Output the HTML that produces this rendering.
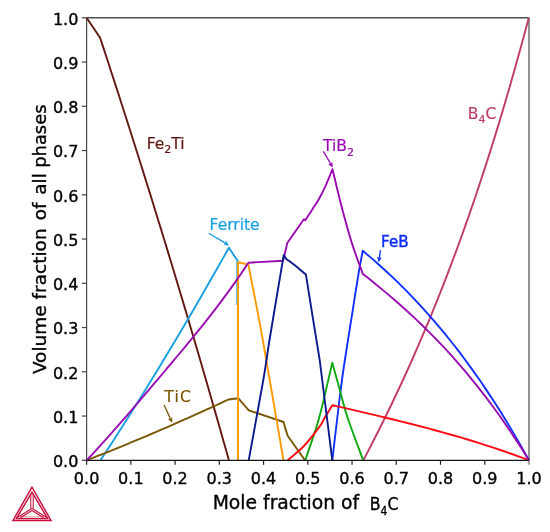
<!DOCTYPE html>
<html><head><meta charset="utf-8"><style>
html,body{margin:0;padding:0;background:#fff;}
#w{position:relative;width:550px;height:532px;overflow:hidden;background:#fff;}
text{font-family:"DejaVu Sans", "Liberation Sans", sans-serif;}
</style></head><body><div id="w">
<svg width="550" height="532" viewBox="0 0 550 532" style="position:absolute;left:0;top:0">
<defs><clipPath id="c"><rect x="85.6" y="16.8" width="444.4" height="444.5"/></clipPath></defs>
<line x1="86.6" y1="17.8" x2="529.0" y2="17.8" stroke="#4e4e4e" stroke-width="1.4"/>
<line x1="529.0" y1="17.8" x2="529.0" y2="460.3" stroke="#646464" stroke-width="1.4"/>
<line x1="86.6" y1="17.8" x2="86.6" y2="460.3" stroke="#4a4a4a" stroke-width="1.2"/>
<line x1="86.60" y1="460.3" x2="86.60" y2="464.8" stroke="#222" stroke-width="1.2"/>
<line x1="81.8" y1="460.30" x2="86.6" y2="460.30" stroke="#444" stroke-width="1.2"/>
<line x1="130.84" y1="460.3" x2="130.84" y2="464.8" stroke="#222" stroke-width="1.2"/>
<line x1="81.8" y1="416.05" x2="86.6" y2="416.05" stroke="#444" stroke-width="1.2"/>
<line x1="175.08" y1="460.3" x2="175.08" y2="464.8" stroke="#222" stroke-width="1.2"/>
<line x1="81.8" y1="371.80" x2="86.6" y2="371.80" stroke="#444" stroke-width="1.2"/>
<line x1="219.32" y1="460.3" x2="219.32" y2="464.8" stroke="#222" stroke-width="1.2"/>
<line x1="81.8" y1="327.55" x2="86.6" y2="327.55" stroke="#444" stroke-width="1.2"/>
<line x1="263.56" y1="460.3" x2="263.56" y2="464.8" stroke="#222" stroke-width="1.2"/>
<line x1="81.8" y1="283.30" x2="86.6" y2="283.30" stroke="#444" stroke-width="1.2"/>
<line x1="307.80" y1="460.3" x2="307.80" y2="464.8" stroke="#222" stroke-width="1.2"/>
<line x1="81.8" y1="239.05" x2="86.6" y2="239.05" stroke="#444" stroke-width="1.2"/>
<line x1="352.04" y1="460.3" x2="352.04" y2="464.8" stroke="#222" stroke-width="1.2"/>
<line x1="81.8" y1="194.80" x2="86.6" y2="194.80" stroke="#444" stroke-width="1.2"/>
<line x1="396.28" y1="460.3" x2="396.28" y2="464.8" stroke="#222" stroke-width="1.2"/>
<line x1="81.8" y1="150.55" x2="86.6" y2="150.55" stroke="#444" stroke-width="1.2"/>
<line x1="440.52" y1="460.3" x2="440.52" y2="464.8" stroke="#222" stroke-width="1.2"/>
<line x1="81.8" y1="106.30" x2="86.6" y2="106.30" stroke="#444" stroke-width="1.2"/>
<line x1="484.76" y1="460.3" x2="484.76" y2="464.8" stroke="#222" stroke-width="1.2"/>
<line x1="81.8" y1="62.05" x2="86.6" y2="62.05" stroke="#444" stroke-width="1.2"/>
<line x1="529.00" y1="460.3" x2="529.00" y2="464.8" stroke="#6a6a6a" stroke-width="1.2"/>
<line x1="81.8" y1="17.80" x2="86.6" y2="17.80" stroke="#444" stroke-width="1.2"/>
<g clip-path="url(#c)" fill="none" stroke-width="1.9" stroke-linejoin="round" stroke-linecap="butt">
<path d="M86.60,17.80 L100.10,37.70 C102.11,43.82 104.12,49.95 106.13,56.07 C108.13,62.20 110.13,68.32 112.11,74.45 C114.10,80.57 116.09,86.70 118.06,92.82 C120.04,98.95 122.01,105.07 123.97,111.20 C125.94,117.32 127.89,123.44 129.85,129.57 C131.80,135.69 133.74,141.82 135.68,147.94 C137.62,154.07 139.55,160.19 141.47,166.32 C143.40,172.44 145.32,178.57 147.23,184.69 C149.14,190.82 151.04,196.94 152.94,203.07 C154.84,209.19 156.74,215.31 158.62,221.44 C160.51,227.56 162.39,233.69 164.26,239.81 C166.13,245.94 168.00,252.06 169.86,258.19 C171.72,264.31 173.57,270.44 175.42,276.56 C177.27,282.69 179.11,288.81 180.94,294.93 C182.78,301.06 184.61,307.18 186.43,313.31 C188.25,319.43 190.07,325.56 191.87,331.68 C193.68,337.81 195.48,343.93 197.28,350.06 C199.08,356.18 200.87,362.31 202.65,368.43 C204.43,374.56 206.21,380.68 207.98,386.80 C209.75,392.93 211.51,399.05 213.27,405.18 C215.02,411.30 216.77,417.43 218.52,423.55 C220.26,429.68 222.00,435.80 223.73,441.93 C225.46,448.05 227.18,454.18 228.90,460.30" stroke="#621811"/>
<path d="M100.50,460.30 C102.36,457.45 104.22,454.61 106.08,451.76 C107.94,448.90 109.80,446.03 111.67,443.15 C113.53,440.27 115.39,437.38 117.25,434.48 C119.11,431.58 120.97,428.67 122.83,425.75 C124.69,422.82 126.55,419.89 128.41,416.95 C130.27,414.00 132.13,411.05 134.00,408.09 C135.86,405.12 137.72,402.15 139.58,399.16 C141.44,396.18 143.30,393.18 145.16,390.17 C147.02,387.17 148.88,384.15 150.74,381.12 C152.60,378.09 154.47,375.05 156.33,372.00 C158.19,368.96 160.05,365.90 161.91,362.82 C163.77,359.75 165.63,356.67 167.49,353.58 C169.35,350.49 171.21,347.39 173.07,344.27 C174.93,341.16 176.80,338.04 178.66,334.90 C180.52,331.77 182.38,328.62 184.24,325.47 C186.10,322.31 187.96,319.15 189.82,315.97 C191.68,312.79 193.54,309.61 195.40,306.41 C197.27,303.21 199.13,300.00 200.99,296.78 C202.85,293.56 204.71,290.33 206.57,287.09 C208.43,283.85 210.29,280.60 212.15,277.34 C214.01,274.08 215.87,270.81 217.73,267.52 C219.60,264.24 221.46,260.95 223.32,257.64 C225.18,254.34 227.04,251.01 228.90,247.70 L237.60,260.80 L237.30,262.00 L237.30,305.00" stroke="#17a0e4"/>
<path d="M86.60,460.30 C88.66,459.49 90.71,458.69 92.77,457.89 C94.83,457.08 96.88,456.27 98.94,455.46 C101.00,454.65 103.05,453.83 105.11,453.01 C107.17,452.19 109.22,451.36 111.28,450.54 C113.33,449.71 115.39,448.88 117.45,448.04 C119.50,447.21 121.56,446.37 123.62,445.53 C125.67,444.69 127.73,443.84 129.79,442.99 C131.84,442.14 133.90,441.29 135.96,440.43 C138.01,439.58 140.07,438.72 142.13,437.86 C144.18,436.99 146.24,436.12 148.30,435.25 C150.35,434.38 152.41,433.51 154.47,432.63 C156.52,431.76 158.58,430.87 160.63,429.99 C162.69,429.10 164.75,428.22 166.80,427.32 C168.86,426.43 170.92,425.54 172.97,424.64 C175.03,423.74 177.09,422.84 179.14,421.93 C181.20,421.03 183.26,420.12 185.31,419.20 C187.37,418.29 189.43,417.37 191.48,416.45 C193.54,415.53 195.60,414.61 197.65,413.68 C199.71,412.75 201.77,411.82 203.82,410.89 C205.88,409.95 207.93,409.01 209.99,408.07 C212.05,407.13 214.10,406.19 216.16,405.24 C218.22,404.29 220.27,403.34 222.33,402.38 C224.39,401.42 226.44,400.46 228.50,399.50 L238.20,398.20 L248.80,410.30 L283.50,422.00 C284.73,426.13 286.33,431.85 287.20,434.40 C288.07,436.95 288.20,436.33 288.70,437.30 L305.00,460.30" stroke="#7a5800"/>
<path d="M238.00,460.30 L238.00,262.30 L248.40,264.60 C253.20,289.73 256.95,307.38 262.80,340.00 C268.65,372.62 276.60,420.20 283.50,460.30" stroke="#ff9900"/>
<path d="M363.30,460.30 C365.95,455.21 368.64,450.13 371.26,445.04 C373.88,439.96 376.47,434.87 379.02,429.78 C381.57,424.70 384.09,419.61 386.58,414.52 C389.06,409.44 391.51,404.35 393.93,399.27 C396.36,394.18 398.74,389.09 401.10,384.01 C403.46,378.92 405.78,373.83 408.08,368.75 C410.38,363.66 412.64,358.58 414.88,353.49 C417.12,348.40 419.32,343.32 421.50,338.23 C423.68,333.14 425.83,328.06 427.95,322.97 C430.07,317.89 432.17,312.80 434.23,307.71 C436.30,302.63 438.34,297.54 440.35,292.46 C442.37,287.37 444.36,282.28 446.32,277.20 C448.28,272.11 450.22,267.02 452.14,261.94 C454.05,256.85 455.94,251.77 457.80,246.68 C459.67,241.59 461.51,236.51 463.33,231.42 C465.15,226.33 466.95,221.25 468.72,216.16 C470.50,211.08 472.25,205.99 473.99,200.90 C475.72,195.82 477.43,190.73 479.12,185.64 C480.81,180.56 482.49,175.47 484.14,170.39 C485.79,165.30 487.42,160.21 489.04,155.13 C490.65,150.04 492.25,144.96 493.83,139.87 C495.41,134.78 496.97,129.70 498.51,124.61 C500.06,119.52 501.59,114.44 503.10,109.35 C504.61,104.27 506.11,99.18 507.59,94.09 C509.07,89.01 510.54,83.92 511.99,78.83 C513.44,73.75 514.88,68.66 516.31,63.58 C517.73,58.49 519.15,53.40 520.55,48.32 C521.95,43.23 523.33,38.14 524.71,33.06 C526.08,27.97 527.44,22.89 528.80,17.80" stroke="#c03a6a"/>
<path d="M332.30,460.30 C334.67,440.20 337.43,415.88 339.40,400.00 C341.37,384.12 342.00,379.20 344.10,365.00 C346.20,350.80 349.55,330.30 352.00,314.80 C354.45,299.30 357.00,282.67 358.80,272.00 C360.60,261.33 361.47,257.87 362.80,250.80 L362.80,250.79 C365.21,252.83 367.62,254.82 370.03,256.89 C372.43,258.95 374.84,261.05 377.25,263.19 C379.66,265.32 382.07,267.49 384.48,269.69 C386.89,271.90 389.30,274.14 391.70,276.42 C394.11,278.71 396.52,281.02 398.93,283.39 C401.34,285.75 403.75,288.15 406.16,290.59 C408.57,293.03 410.97,295.52 413.38,298.05 C415.79,300.58 418.20,303.15 420.61,305.77 C423.02,308.39 425.43,311.06 427.83,313.77 C430.24,316.48 432.65,319.24 435.06,322.05 C437.47,324.86 439.88,327.71 442.29,330.62 C444.70,333.53 447.10,336.49 449.51,339.50 C451.92,342.52 454.33,345.58 456.74,348.70 C459.15,351.82 461.56,354.99 463.97,358.22 C466.37,361.45 468.78,364.74 471.19,368.08 C473.60,371.43 476.01,374.83 478.42,378.29 C480.83,381.75 483.23,385.27 485.64,388.85 C488.05,392.43 490.46,396.07 492.87,399.78 C495.28,403.48 497.69,407.25 500.10,411.08 C502.50,414.92 504.91,418.82 507.32,422.78 C509.73,426.75 512.14,430.77 514.55,434.87 C516.96,438.97 519.37,443.14 521.77,447.38 C524.18,451.61 526.59,455.99 529.00,460.30" stroke="#1030ff"/>
<path d="M305.30,460.30 C309.90,446.20 314.60,434.27 319.10,418.00 C323.60,401.73 327.90,381.13 332.30,362.70 C334.80,371.80 337.23,380.78 339.80,390.00 C342.37,399.22 343.80,406.28 347.70,418.00 C351.60,429.72 358.03,446.20 363.20,460.30" stroke="#0eaa10"/>
<path d="M287.60,460.30 C293.03,455.53 298.67,451.48 303.90,446.00 C309.13,440.52 315.48,432.18 319.00,427.40 C322.52,422.62 322.77,421.00 325.00,417.30 C327.23,413.60 329.93,409.23 332.40,405.20 L332.40,405.20 C335.25,405.86 338.10,406.52 340.95,407.18 C343.80,407.85 346.65,408.51 349.50,409.17 C352.34,409.83 355.19,410.49 358.04,411.16 C360.89,411.82 363.74,412.49 366.59,413.16 C369.44,413.83 372.29,414.50 375.14,415.18 C377.99,415.86 380.84,416.54 383.69,417.22 C386.54,417.91 389.39,418.60 392.23,419.29 C395.08,419.99 397.93,420.69 400.78,421.40 C403.63,422.10 406.48,422.82 409.33,423.54 C412.18,424.26 415.03,424.99 417.88,425.72 C420.73,426.46 423.58,427.20 426.43,427.95 C429.28,428.71 432.12,429.47 434.97,430.24 C437.82,431.01 440.67,431.79 443.52,432.58 C446.37,433.37 449.22,434.17 452.07,434.99 C454.92,435.80 457.77,436.62 460.62,437.46 C463.47,438.30 466.32,439.14 469.17,440.01 C472.01,440.87 474.86,441.74 477.71,442.63 C480.56,443.52 483.41,444.42 486.26,445.34 C489.11,446.26 491.96,447.19 494.81,448.14 C497.66,449.08 500.51,450.05 503.36,451.02 C506.21,452.00 509.06,453.00 511.90,454.01 C514.75,455.03 517.60,456.05 520.45,457.10 C523.30,458.15 526.15,459.24 529.00,460.30" stroke="#ff0a14"/>
<path d="M86.60,460.30 C88.94,457.81 91.29,455.36 93.63,452.84 C95.98,450.32 98.32,447.76 100.67,445.19 C103.01,442.61 105.36,440.00 107.70,437.37 C110.05,434.74 112.39,432.09 114.74,429.42 C117.08,426.76 119.43,424.07 121.77,421.38 C124.12,418.69 126.46,415.98 128.81,413.26 C131.15,410.54 133.50,407.82 135.84,405.08 C138.19,402.35 140.53,399.61 142.88,396.86 C145.22,394.12 147.57,391.37 149.91,388.61 C152.26,385.85 154.60,383.09 156.95,380.33 C159.29,377.56 161.64,374.79 163.98,372.01 C166.33,369.23 168.67,366.45 171.02,363.66 C173.36,360.87 175.71,358.07 178.05,355.26 C180.40,352.45 182.74,349.63 185.09,346.80 C187.43,343.96 189.78,341.12 192.12,338.25 C194.47,335.38 196.81,332.50 199.16,329.59 C201.50,326.68 203.85,323.76 206.19,320.79 C208.54,317.83 210.88,314.85 213.23,311.82 C215.57,308.79 217.92,305.73 220.26,302.63 C222.61,299.52 224.95,296.37 227.30,293.17 C229.64,289.97 231.99,286.72 234.33,283.40 C236.68,280.09 239.02,276.72 241.37,273.27 C243.71,269.82 246.06,266.22 248.40,262.70 L283.10,260.70 C283.60,258.67 283.90,257.55 284.60,254.60 C285.30,251.65 286.40,246.87 287.30,243.00 L303.90,219.30 L305.40,220.20 L306.60,218.30 C308.40,215.50 309.97,213.08 312.00,209.90 C314.03,206.72 316.53,203.22 318.80,199.20 C321.07,195.18 323.32,190.80 325.60,185.80 C327.88,180.80 330.20,174.73 332.50,169.20 C335.30,180.77 337.68,191.62 340.90,203.90 C344.12,216.18 348.15,231.23 351.80,242.90 C355.45,254.57 359.13,263.57 362.80,273.90 L362.80,273.91 C365.21,275.81 367.62,277.68 370.03,279.60 C372.43,281.52 374.84,283.46 377.25,285.42 C379.66,287.39 382.07,289.37 384.48,291.38 C386.89,293.39 389.30,295.43 391.70,297.49 C394.11,299.56 396.52,301.65 398.93,303.77 C401.34,305.89 403.75,308.04 406.16,310.23 C408.57,312.41 410.97,314.62 413.38,316.87 C415.79,319.12 418.20,321.40 420.61,323.73 C423.02,326.05 425.43,328.40 427.83,330.80 C430.24,333.19 432.65,335.63 435.06,338.10 C437.47,340.58 439.88,343.09 442.29,345.65 C444.70,348.21 447.10,350.81 449.51,353.46 C451.92,356.11 454.33,358.80 456.74,361.54 C459.15,364.28 461.56,367.07 463.97,369.91 C466.37,372.75 468.78,375.64 471.19,378.58 C473.60,381.52 476.01,384.51 478.42,387.56 C480.83,390.61 483.23,393.71 485.64,396.86 C488.05,400.02 490.46,403.24 492.87,406.51 C495.28,409.78 497.69,413.11 500.10,416.51 C502.50,419.90 504.91,423.36 507.32,426.87 C509.73,430.39 512.14,433.97 514.55,437.62 C516.96,441.27 519.37,444.98 521.77,448.76 C524.18,452.54 526.59,456.45 529.00,460.30" stroke="#9a0cb2"/>
<path d="M248.70,460.30 C253.57,433.53 259.83,400.05 263.30,380.00 C266.77,359.95 266.10,360.82 269.50,340.00 C272.90,319.18 278.97,283.40 283.70,255.10 L286.10,258.70 C289.00,260.90 291.50,262.68 294.80,265.30 C298.10,267.92 302.20,271.37 305.90,274.40 C308.40,290.07 311.10,307.13 313.40,321.40 C315.70,335.67 317.60,347.13 319.70,360.00 L332.30,460.30" stroke="#0a1a8c"/>
</g>
<line x1="86.1" y1="460.3" x2="529.0" y2="460.3" stroke="#151515" stroke-width="1.2"/>
<line x1="208.8" y1="233.2" x2="224.89" y2="242.92" stroke="#17a0e4" stroke-width="1.3"/><polygon points="229.00,245.40 223.70,244.89 226.08,240.95" fill="#17a0e4"/>
<line x1="323.4" y1="151.4" x2="330.39" y2="163.45" stroke="#9a0cb2" stroke-width="1.3"/><polygon points="332.80,167.60 328.40,164.60 332.38,162.29" fill="#9a0cb2"/>
<line x1="380.5" y1="250.2" x2="379.41" y2="257.45" stroke="#1030ff" stroke-width="1.3"/><polygon points="378.70,262.20 377.14,257.11 381.69,257.79" fill="#1030ff"/>
<line x1="164.1" y1="405.1" x2="170.19" y2="418.34" stroke="#7a5800" stroke-width="1.3"/><polygon points="172.20,422.70 168.10,419.30 172.28,417.38" fill="#7a5800"/>
<g fill="none" stroke="#c80f3c" stroke-width="1.45" stroke-linejoin="miter"><polygon points="32,487.2 13,520.4 51,520.4"/><polygon points="32,492.2 16.3,518.6 47.7,518.6"/><line x1="30.8" y1="494" x2="30.8" y2="508.6" stroke-width="1.05"/><line x1="33.2" y1="494" x2="33.2" y2="508.6" stroke-width="1.05"/><line x1="32" y1="508.3" x2="17.5" y2="517.6" stroke-width="1.2"/><line x1="32" y1="510.6" x2="20.5" y2="517.8" stroke-width="1.2"/><line x1="32" y1="508.3" x2="46.5" y2="517.6" stroke-width="1.2"/><line x1="32" y1="510.6" x2="43.5" y2="517.8" stroke-width="1.2"/><line x1="19" y1="516.9" x2="45" y2="516.9" stroke-width="0.8" stroke-opacity="0.6"/></g>
<text x="86.60" y="483.9" font-size="16" fill="#000" stroke="#000" stroke-width="0.35" text-anchor="middle" >0.0</text>
<text x="78.4" y="467.10" font-size="16" fill="#000" stroke="#000" stroke-width="0.35" text-anchor="end" >0.0</text>
<text x="130.84" y="483.9" font-size="16" fill="#000" stroke="#000" stroke-width="0.35" text-anchor="middle" >0.1</text>
<text x="78.4" y="422.85" font-size="16" fill="#000" stroke="#000" stroke-width="0.35" text-anchor="end" >0.1</text>
<text x="175.08" y="483.9" font-size="16" fill="#000" stroke="#000" stroke-width="0.35" text-anchor="middle" >0.2</text>
<text x="78.4" y="378.60" font-size="16" fill="#000" stroke="#000" stroke-width="0.35" text-anchor="end" >0.2</text>
<text x="219.32" y="483.9" font-size="16" fill="#000" stroke="#000" stroke-width="0.35" text-anchor="middle" >0.3</text>
<text x="78.4" y="334.35" font-size="16" fill="#000" stroke="#000" stroke-width="0.35" text-anchor="end" >0.3</text>
<text x="263.56" y="483.9" font-size="16" fill="#000" stroke="#000" stroke-width="0.35" text-anchor="middle" >0.4</text>
<text x="78.4" y="290.10" font-size="16" fill="#000" stroke="#000" stroke-width="0.35" text-anchor="end" >0.4</text>
<text x="307.80" y="483.9" font-size="16" fill="#000" stroke="#000" stroke-width="0.35" text-anchor="middle" >0.5</text>
<text x="78.4" y="245.85" font-size="16" fill="#000" stroke="#000" stroke-width="0.35" text-anchor="end" >0.5</text>
<text x="352.04" y="483.9" font-size="16" fill="#000" stroke="#000" stroke-width="0.35" text-anchor="middle" >0.6</text>
<text x="78.4" y="201.60" font-size="16" fill="#000" stroke="#000" stroke-width="0.35" text-anchor="end" >0.6</text>
<text x="396.28" y="483.9" font-size="16" fill="#000" stroke="#000" stroke-width="0.35" text-anchor="middle" >0.7</text>
<text x="78.4" y="157.35" font-size="16" fill="#000" stroke="#000" stroke-width="0.35" text-anchor="end" >0.7</text>
<text x="440.52" y="483.9" font-size="16" fill="#000" stroke="#000" stroke-width="0.35" text-anchor="middle" >0.8</text>
<text x="78.4" y="113.10" font-size="16" fill="#000" stroke="#000" stroke-width="0.35" text-anchor="end" >0.8</text>
<text x="484.76" y="483.9" font-size="16" fill="#000" stroke="#000" stroke-width="0.35" text-anchor="middle" >0.9</text>
<text x="78.4" y="68.85" font-size="16" fill="#000" stroke="#000" stroke-width="0.35" text-anchor="end" >0.9</text>
<text x="529.00" y="483.9" font-size="16" fill="#000" stroke="#000" stroke-width="0.35" text-anchor="middle" >1.0</text>
<text x="78.4" y="24.60" font-size="16" fill="#000" stroke="#000" stroke-width="0.35" text-anchor="end" >1.0</text>
<text x="212.7" y="508.6" font-size="18.75" fill="#000" stroke="#000" stroke-width="0.35" text-anchor="start" >Mole fraction of</text>
<text x="369.8" y="509.8" font-size="16.8" fill="#000" stroke="#000" stroke-width="0.35" text-anchor="start" textLength="28.6" lengthAdjust="spacingAndGlyphs">B<tspan font-size="11.5" dy="5.2">4</tspan><tspan dy="-5.2">C</tspan></text>
<text x="46.5" y="374.1" font-size="18.5" fill="#000" stroke="#000" stroke-width="0.35" text-anchor="start" transform="rotate(-90 46.5 374.1)">Volume fraction</text>
<text x="46.5" y="220.3" font-size="18.5" fill="#000" stroke="#000" stroke-width="0.35" text-anchor="start" transform="rotate(-90 46.5 220.3)">of</text>
<text x="46.5" y="194.8" font-size="18.5" fill="#000" stroke="#000" stroke-width="0.35" text-anchor="start" transform="rotate(-90 46.5 194.8)">all</text>
<text x="46.5" y="167.8" font-size="18.5" fill="#000" stroke="#000" stroke-width="0.35" text-anchor="start" transform="rotate(-90 46.5 167.8)" textLength="63.3" lengthAdjust="spacingAndGlyphs">phases</text>
<text x="146.7" y="148.8" font-size="15.5" fill="#621811" stroke="#621811" stroke-width="0.2" text-anchor="start" >Fe<tspan font-size="11" dy="4.5">2</tspan><tspan dy="-4.5">Ti</tspan></text>
<text x="209.6" y="229.8" font-size="15.5" fill="#17a0e4" stroke="#17a0e4" stroke-width="0.2" text-anchor="start" >Ferrite</text>
<text x="323.0" y="151.3" font-size="15.5" fill="#9a0cb2" stroke="#9a0cb2" stroke-width="0.2" text-anchor="start" >TiB<tspan font-size="11" dy="4.5">2</tspan></text>
<text x="467.8" y="118.8" font-size="15.5" fill="#c03a6a" stroke="#c03a6a" stroke-width="0.2" text-anchor="start" >B<tspan font-size="11" dy="4.5">4</tspan><tspan dy="-4.5">C</tspan></text>
<text x="381.0" y="246.7" font-size="15.5" fill="#1030ff" stroke="#1030ff" stroke-width="0.45" text-anchor="start" textLength="27.6" lengthAdjust="spacingAndGlyphs">FeB</text>
<text x="164.3" y="401.8" font-size="15.5" fill="#7a5800" stroke="#7a5800" stroke-width="0.2" text-anchor="start" textLength="26.6" lengthAdjust="spacing">TiC</text>
</svg>
</div></body></html>
